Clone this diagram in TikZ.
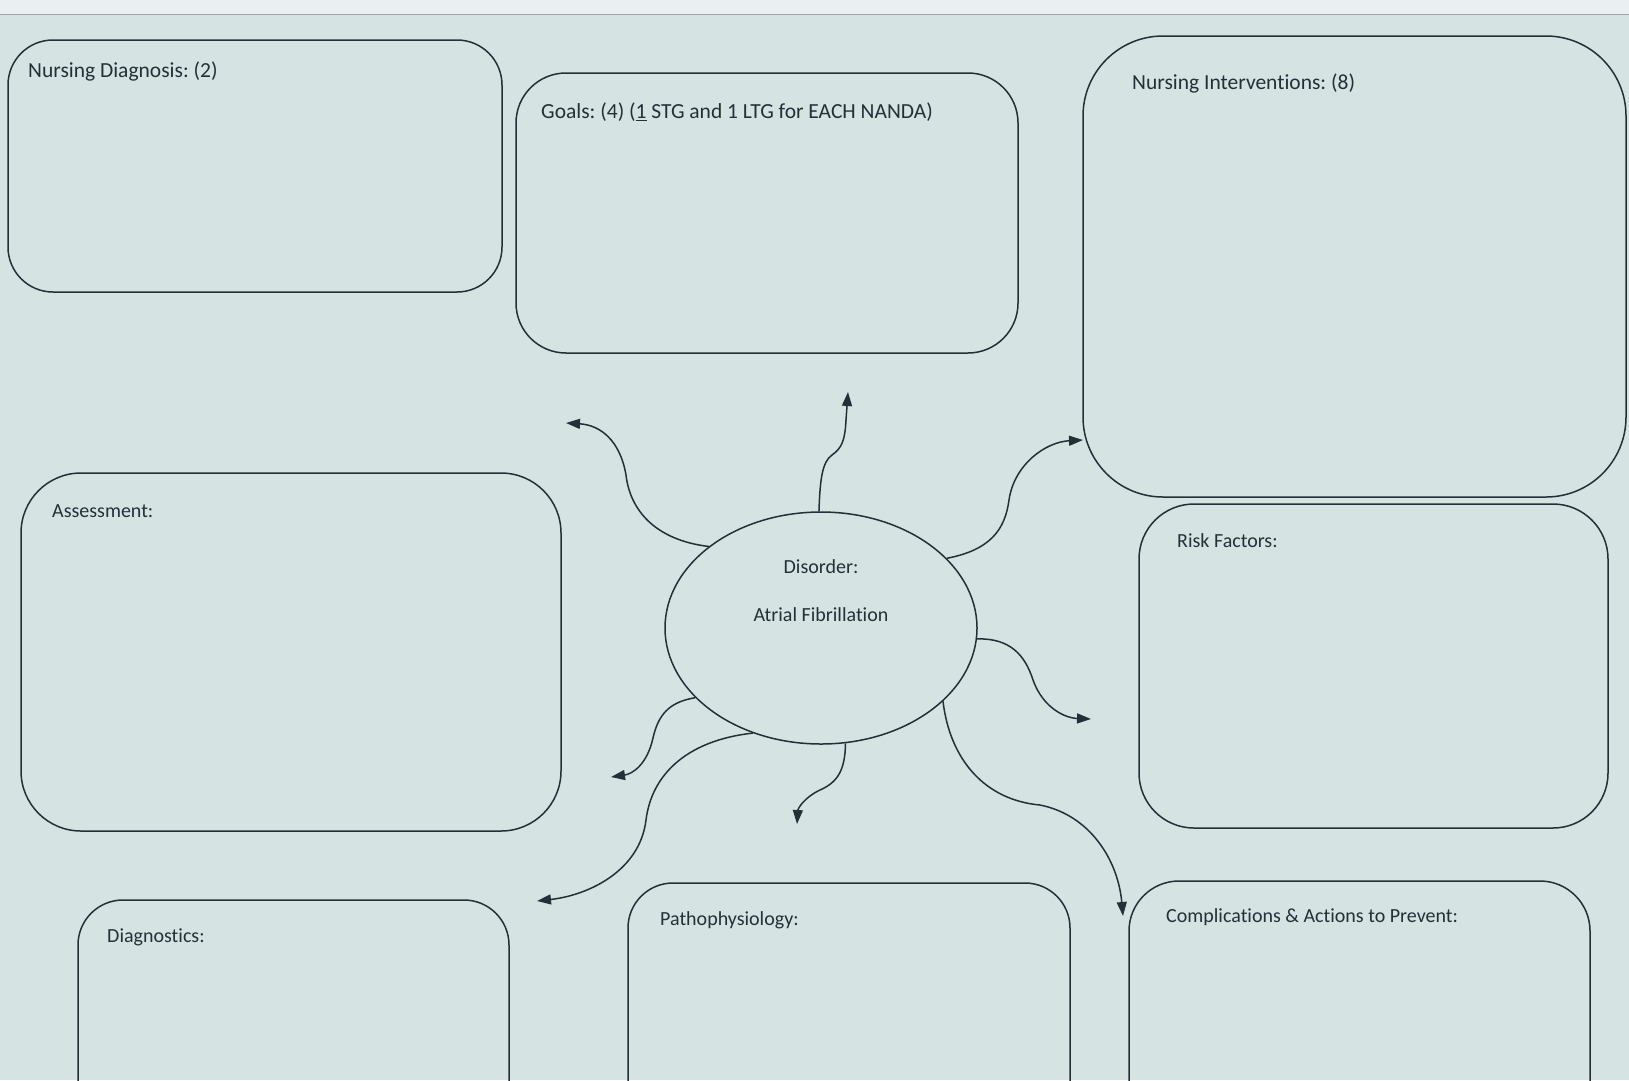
\documentclass[tikz,border=0pt]{standalone}
\usepackage{fontspec}
\setmainfont{Carlito}[Ligatures=NoCommon]
\usetikzlibrary{arrows.meta,shapes.geometric}
\definecolor{bg}{RGB}{214,227,227}
\definecolor{topbg}{RGB}{234,240,242}
\definecolor{ink}{RGB}{35,48,55}
\frenchspacing
\begin{document}
\begin{tikzpicture}[x=1pt,y=-1pt,
  box/.style={draw=ink, line width=1.5pt, rectangle, rounded corners=#1, inner sep=0pt},
  box/.default=50pt,
  lbl/.style={anchor=west, text=ink, font=\fontsize{20}{24}\selectfont, inner sep=0pt},
  biglbl/.style={lbl, font=\fontsize{21.5}{25}\selectfont},
  conn/.style={draw=ink, line width=1.5pt, -{Triangle[length=14pt,width=10pt]}}]
\useasboundingbox (0,0) rectangle (1629,1080);
\fill[bg] (0,0) rectangle (1629,1080);
\fill[topbg] (0,0) rectangle (1629,14);
\draw[gray!70, line width=1pt] (0,14) -- (1629,14);
\begin{scope}
\clip (0,0) rectangle (1629,1080);
\node[box=45pt, minimum width=494pt, minimum height=252pt] (nd) at (255,166) {};
\node[box=50pt, minimum width=502pt, minimum height=280pt] (goals) at (767,213) {};
\node[box=80pt, minimum width=543pt, minimum height=461pt] (ni) at (1354.5,266.5) {};
\node[box=60pt, minimum width=540pt, minimum height=358pt] (assess) at (291,652) {};
\node[box=55pt, minimum width=469pt, minimum height=324pt] (risk) at (1373.5,666) {};
\node[box=45pt, minimum width=431pt, minimum height=280pt] (diag) at (293.5,1040) {};
\node[box=45pt, minimum width=442pt, minimum height=297pt] (patho) at (849,1031.5) {};
\node[box=50pt, minimum width=461pt, minimum height=299pt] (compl) at (1359.5,1030.5) {};
\end{scope}
\node[biglbl] (ndl) at (28,71) {Nursing Diagnosis: (2)};
\node[biglbl] (goalsl) at (541,112) {Goals: (4) (\underline{1} STG and 1 LTG for EACH NANDA)};
\node[biglbl] (nil) at (1132,83) {Nursing Interventions: (8)};
\node[lbl] (assessl) at (52,511) {Assessment:};
\node[lbl] (riskl) at (1177,541) {Risk Factors:};
\node[lbl] (diagl) at (107,937) {Diagnostics:};
\node[lbl] (pathol) at (660,920) {Pathophysiology:};
\node[lbl] (compll) at (1166,917) {Complications \& Actions to Prevent:};
\node[draw=ink, line width=1.5pt, ellipse, minimum width=312pt, minimum height=232pt, inner sep=0pt] (dis) at (821,628) {};
\node[lbl, anchor=center] (d1) at (821,567) {Disorder:};
\node[lbl, anchor=center] (d2) at (821,615) {Atrial Fibrillation};
\coordinate (tU) at (848,392);
\coordinate (tUL) at (566,423);
\coordinate (tUR) at (1083,440);
\coordinate (tR) at (1091,719);
\coordinate (tLs) at (611,777);
\coordinate (tL) at (537,901);
\coordinate (tD) at (797,824);
\coordinate (tDR) at (1123,916);
\draw[conn] (dis.91) .. controls (820,480) and (822,462) .. (832,455) .. controls (842,448) and (845,440) .. (846,420) -- (tU);
\draw[conn] (dis.144) .. controls (655,540) and (630,510) .. (626,475) .. controls (620,440) and (600,425) .. (tUL);
\draw[conn] (dis.29) .. controls (990,550) and (1005,530) .. (1009,500) .. controls (1014,465) and (1045,442) .. (tUR);
\draw[conn] (dis.-4) .. controls (1010,638) and (1025,655) .. (1033,680) .. controls (1043,708) and (1065,718) .. (tR);
\draw[conn] (dis.209) .. controls (668,702) and (658,716) .. (653,738) .. controls (647,765) and (632,774) .. (tLs);
\draw[conn] (dis.237.5) .. controls (690,740) and (652,772) .. (646,820) .. controls (640,870) and (590,895) .. (tL);
\draw[conn] (dis.282) .. controls (845,770) and (838,782) .. (820,790) .. controls (805,797) and (798,808) .. (tD);
\draw[conn] (dis.329.5) .. controls (950,760) and (985,800) .. (1040,805) .. controls (1090,815) and (1118,860) .. (tDR);
\end{tikzpicture}
\end{document}
